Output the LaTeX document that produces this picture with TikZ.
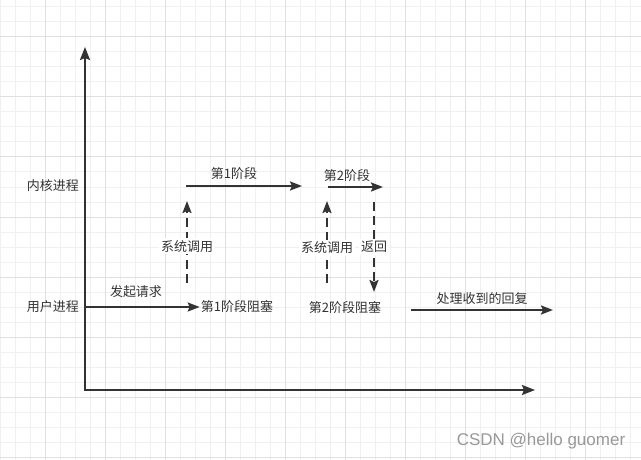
\documentclass[tikz,border=0pt]{standalone}
\usepackage{fontspec}
\usepackage{xcolor}
\usepackage{tikz}
\usetikzlibrary{arrows.meta}
\newfontfamily\cjk{Noto Sans CJK SC}
\setsansfont{Liberation Sans}
\definecolor{ink}{HTML}{333333}
\definecolor{gridminor}{HTML}{F0F0F0}
\definecolor{gridmajor}{HTML}{E0E0E0}
\definecolor{wmgray}{HTML}{999999}

\begin{document}
\begin{tikzpicture}[
x=1pt, y=-1pt,
txt/.style={inner sep=1pt, text=ink, font=\cjk\fontsize{13}{15}\selectfont},
axis/.style={draw=ink, line width=2pt, {Stealth[length=13pt,width=10pt,inset=2pt]}-{Stealth[length=13pt,width=10pt,inset=2pt]}},
arrow/.style={draw=ink, line width=2pt, -{Stealth[length=12pt,width=9pt,inset=2pt]}},
call/.style={arrow, dash pattern=on 9pt off 5pt}
]

\fill[white] (0,0) rectangle (641,460);
\useasboundingbox (0,0) rectangle (641,460);
\foreach \gx in {0,15,...,630} \draw[gridminor, line width=1pt] (\gx,0) -- (\gx,460);
\foreach \gy in {7,22,...,457} \draw[gridminor, line width=1pt] (0,\gy) -- (641,\gy);
\foreach \gx in {45,105,...,630} \draw[gridmajor, line width=1pt] (\gx,0) -- (\gx,460);
\foreach \gy in {37,97,...,457} \draw[gridmajor, line width=1pt] (0,\gy) -- (641,\gy);

\coordinate (o) at (85,390);
\coordinate (ytop) at (85,47);
\coordinate (xend) at (535,390);
\coordinate (req) at (85,307);
\coordinate (s1a) at (186,186);
\coordinate (s1b) at (302,186);
\coordinate (c1a) at (187,283);
\coordinate (c1b) at (187,201);
\coordinate (c2a) at (327,283);
\coordinate (c2b) at (327,201);
\coordinate (s2a) at (328,187);
\coordinate (s2b) at (383,187);
\coordinate (r2a) at (374,202);
\coordinate (r2b) at (374,292);
\coordinate (doa) at (411,310);
\coordinate (dob) at (553,310);

\node[txt] (kern) at (53,186) {内核进程};
\node[txt] (user) at (53,307) {用户进程};
\node[txt] (blk1) at (237,307) {第1阶段阻塞};
\node[txt] (blk2) at (345,308) {第2阶段阻塞};

\draw[axis] (ytop) -- (o) -- (xend);

\draw[arrow] (req) -- (blk1);
\node[txt] (reqlbl) at (136,292) {发起请求};

\draw[call] (c1a) -- node[txt, fill=white, inner sep=2pt, pos=0.45] (c1lbl) {系统调用} (c1b);
\draw[arrow] (s1a) -- (s1b);
\node[txt] (s1lbl) at (234,174) {第1阶段};

\draw[call] (c2a) -- node[txt, fill=white, inner sep=2pt, pos=0.43] (c2lbl) {系统调用} (c2b);
\draw[arrow] (s2a) -- (s2b);
\node[txt] (s2lbl) at (347,176) {第2阶段};
\draw[call] (r2a) -- node[txt, fill=white, inner sep=2pt] (r2lbl) {返回} (r2b);

\draw[arrow] (doa) -- node[txt, above=3pt] (dolbl) {处理收到的回复} (dob);

\node[text=wmgray, inner sep=0pt, font=\sffamily\fontsize{17}{20}\selectfont] (wm) at (541,441) {CSDN @hello guomer};

\end{tikzpicture}
\end{document}
